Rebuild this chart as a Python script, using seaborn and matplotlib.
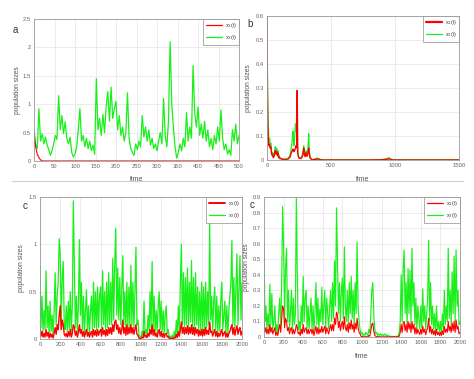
import numpy as np
import matplotlib
matplotlib.use('Agg')
import matplotlib.pyplot as plt
import seaborn as sns

# panel a: time 0..500, one value every 4 time units
x2_a = [0.55, 0.30, 0.22, 0.92, 0.35, 0.48, 0.30, 0.42, 0.28, 0.20,
        0.10, 0.18, 0.30, 0.45, 0.38, 1.15, 0.55, 0.80, 0.48, 0.69,
        0.40, 0.30, 0.42, 0.15, 0.07, 0.12, 0.25, 0.55, 0.92, 0.35,
        0.45, 0.25, 0.40, 0.22, 0.35, 0.18, 0.28, 0.12, 1.45, 0.55,
        0.75, 0.45, 0.82, 0.50, 0.95, 1.22, 0.70, 1.30, 0.75, 0.92,
        1.05, 0.55, 0.80, 0.45, 0.60, 0.35, 0.50, 1.20, 0.40, 0.22,
        0.15, 0.10, 0.30, 0.20, 0.35, 0.25, 0.80, 0.42, 0.60, 0.35,
        0.55, 0.28, 0.40, 0.22, 0.30, 0.18, 0.35, 0.50, 0.30, 1.10,
        0.45, 0.25, 0.70, 2.10, 1.00, 0.60, 0.25, 0.05, 0.15, 0.30,
        0.18, 0.40, 0.25, 0.85, 0.35, 0.60, 0.40, 1.68, 0.85, 0.60,
        0.95, 0.45, 0.65, 0.40, 0.70, 0.35, 0.55, 0.25, 0.40, 0.20,
        0.45, 0.30, 0.60, 0.35, 0.90, 0.40, 0.20, 0.30, 0.12, 0.20,
        0.10, 0.55, 0.35, 0.65, 0.30, 0.45]
x1_a = [0.50, 0.25, 0.12, 0.06, 0.02] + [0.0] * (len(x2_a) - 5)

# panel b: irregular time points 0..1500
t_b = [0, 3, 6, 10, 15, 20, 25, 30, 35, 40, 45, 50, 55, 60, 65, 70, 75, 80,
       85, 90, 95, 100, 110, 120, 135, 150, 165, 180, 190, 198, 204, 210,
       216, 222, 228, 232, 236, 240, 245, 250, 260, 270, 280, 287, 292, 298,
       305, 312, 320, 326, 330, 335, 340, 350, 360, 380, 400, 410, 420, 440,
       480, 600, 800, 900, 940, 950, 958, 965, 975, 990, 1100, 1300, 1500]
x2_b = [0.60, 0.40, 0.25, 0.14, 0.08, 0.09, 0.06, 0.07, 0.04, 0.02,
        0.03, 0.01, 0.02, 0.035, 0.055, 0.03, 0.05, 0.025, 0.04, 0.015,
        0.02, 0.01, 0.008, 0.005, 0.003, 0.004, 0.006, 0.02, 0.05, 0.09,
        0.12, 0.06, 0.09, 0.15, 0.12, 0.20, 0.08, 0.04, 0.02, 0.01,
        0.008, 0.012, 0.03, 0.06, 0.03, 0.02, 0.04, 0.02, 0.05, 0.11,
        0.04, 0.02, 0.01, 0.003, 0.002, 0.006, 0.008, 0.003, 0.002, 0.001,
        0.001, 0.001, 0.001, 0.002, 0.006, 0.01, 0.008, 0.004, 0.002, 0.001,
        0.001, 0.001, 0.001]
x1_b = [0.60, 0.30, 0.15, 0.09, 0.06, 0.065, 0.05, 0.055, 0.03, 0.02,
        0.02, 0.01, 0.015, 0.03, 0.04, 0.025, 0.035, 0.02, 0.03, 0.01,
        0.012, 0.006, 0.005, 0.003, 0.002, 0.003, 0.004, 0.012, 0.03, 0.04,
        0.045, 0.035, 0.04, 0.05, 0.06, 0.05, 0.29, 0.03, 0.015, 0.008,
        0.006, 0.008, 0.02, 0.05, 0.025, 0.015, 0.03, 0.015, 0.03, 0.05,
        0.03, 0.012, 0.006, 0.002, 0.001, 0.003, 0.004, 0.002, 0.001, 0.0,
        0.0, 0.0, 0.0, 0.001, 0.003, 0.005, 0.004, 0.002, 0.001, 0.0,
        0.0, 0.0, 0.0]

# panel c: time 0..2000, one value every 10 time units
x2_c = [0.77, 0.12, 0.45, 0.08, 0.30, 0.10, 0.72, 0.12, 0.35, 0.06,
        0.40, 0.08, 0.25, 0.05, 0.30, 0.70, 0.15, 0.45, 0.60, 1.06,
        0.90, 0.20, 0.65, 0.82, 0.15, 0.10, 0.35, 0.08, 0.40, 0.10,
        0.50, 0.08, 0.35, 1.46, 0.80, 0.12, 0.45, 0.08, 0.35, 1.05,
        0.25, 0.60, 0.10, 0.45, 0.06, 0.30, 0.52, 0.08, 0.35, 0.06,
        0.30, 0.45, 0.08, 0.60, 0.12, 0.50, 0.10, 0.55, 0.12, 0.45,
        0.55, 0.10, 0.72, 0.15, 0.50, 0.08, 0.60, 0.12, 0.70, 0.15,
        0.60, 0.15, 0.85, 0.20, 0.80, 1.17, 0.25, 0.75, 0.20, 0.65,
        0.15, 0.55, 0.88, 0.15, 0.50, 0.10, 0.60, 0.12, 0.55, 0.12,
        0.78, 0.15, 0.60, 0.12, 0.50, 0.97, 0.15, 0.20, 0.05, 0.02,
        0.01, 0.08, 0.03, 0.40, 0.06, 0.10, 0.04, 0.25, 0.08, 0.50,
        0.12, 0.82, 0.10, 0.45, 0.08, 0.30, 0.06, 0.35, 0.50, 0.10,
        0.40, 0.08, 0.30, 0.05, 0.25, 0.35, 0.06, 0.10, 0.02, 0.03,
        0.01, 0.04, 0.01, 0.08, 0.02, 0.20, 0.04, 0.35, 0.08, 0.60,
        1.00, 0.15, 0.70, 0.12, 0.65, 0.15, 0.75, 0.12, 0.60, 0.18,
        0.83, 0.12, 0.65, 0.10, 0.70, 0.15, 0.55, 0.08, 0.50, 0.10,
        0.60, 0.08, 0.55, 0.10, 0.60, 0.12, 0.50, 0.15, 1.22, 0.20,
        0.45, 0.08, 0.40, 0.55, 0.10, 0.45, 0.06, 0.35, 0.08, 0.40,
        0.60, 0.10, 0.25, 0.40, 0.06, 0.35, 0.05, 0.30, 0.45, 0.60,
        1.04, 0.15, 0.65, 0.12, 0.55, 0.90, 0.15, 0.50, 0.88, 0.20,
        0.60]
x1_c = [0.12, 0.03, 0.08, 0.02, 0.06, 0.02, 0.10, 0.03, 0.07, 0.01,
        0.06, 0.02, 0.05, 0.01, 0.06, 0.12, 0.05, 0.15, 0.10, 0.25,
        0.35, 0.10, 0.20, 0.15, 0.05, 0.03, 0.06, 0.02, 0.08, 0.03,
        0.10, 0.02, 0.06, 0.15, 0.12, 0.04, 0.08, 0.02, 0.07, 0.15,
        0.06, 0.10, 0.03, 0.08, 0.02, 0.06, 0.10, 0.03, 0.07, 0.02,
        0.06, 0.08, 0.02, 0.10, 0.04, 0.09, 0.03, 0.10, 0.04, 0.08,
        0.10, 0.03, 0.12, 0.05, 0.09, 0.03, 0.10, 0.04, 0.12, 0.06,
        0.12, 0.05, 0.15, 0.08, 0.18, 0.20, 0.10, 0.15, 0.06, 0.12,
        0.05, 0.10, 0.20, 0.06, 0.12, 0.04, 0.15, 0.05, 0.12, 0.06,
        0.15, 0.06, 0.12, 0.05, 0.10, 0.15, 0.05, 0.04, 0.01, 0.005,
        0.003, 0.02, 0.01, 0.08, 0.02, 0.04, 0.015, 0.06, 0.03, 0.10,
        0.05, 0.15, 0.04, 0.10, 0.03, 0.06, 0.02, 0.07, 0.10, 0.03,
        0.08, 0.02, 0.06, 0.015, 0.05, 0.06, 0.02, 0.03, 0.005, 0.01,
        0.003, 0.01, 0.003, 0.02, 0.01, 0.05, 0.015, 0.08, 0.03, 0.10,
        0.18, 0.06, 0.12, 0.05, 0.12, 0.06, 0.14, 0.05, 0.12, 0.06,
        0.15, 0.05, 0.12, 0.04, 0.12, 0.06, 0.10, 0.03, 0.09, 0.04,
        0.10, 0.03, 0.10, 0.04, 0.12, 0.05, 0.09, 0.05, 0.18, 0.07,
        0.08, 0.03, 0.07, 0.10, 0.03, 0.08, 0.02, 0.06, 0.03, 0.07,
        0.10, 0.03, 0.06, 0.08, 0.02, 0.06, 0.02, 0.06, 0.08, 0.12,
        0.15, 0.05, 0.12, 0.04, 0.10, 0.14, 0.05, 0.10, 0.12, 0.04,
        0.08]

# panel d: time 0..2000, one value every 10 time units
x2_d = [0.61, 0.10, 0.20, 0.05, 0.15, 0.04, 0.34, 0.08, 0.28, 0.05,
        0.10, 0.20, 0.03, 0.08, 0.02, 0.15, 0.25, 0.06, 0.33, 0.84,
        0.58, 0.12, 0.45, 0.57, 0.10, 0.30, 0.05, 0.15, 0.30, 0.05,
        0.25, 0.08, 0.15, 0.90, 0.40, 0.05, 0.10, 0.02, 0.20, 0.08,
        0.39, 0.10, 0.25, 0.30, 0.06, 0.20, 0.05, 0.15, 0.25, 0.05,
        0.20, 0.04, 0.15, 0.35, 0.08, 0.25, 0.05, 0.18, 0.10, 0.32,
        0.08, 0.20, 0.30, 0.06, 0.25, 0.15, 0.05, 0.20, 0.30, 0.10,
        0.35, 0.12, 0.49, 0.20, 0.83, 0.50, 0.15, 0.35, 0.10, 0.30,
        0.38, 0.12, 0.58, 0.20, 0.10, 0.30, 0.08, 0.35, 0.15, 0.39,
        0.12, 0.30, 0.08, 0.35, 0.15, 0.61, 0.20, 0.10, 0.05, 0.02,
        0.03, 0.01, 0.02, 0.01, 0.03, 0.02, 0.01, 0.05, 0.03, 0.15,
        0.30, 0.35, 0.15, 0.05, 0.02, 0.03, 0.01, 0.02, 0.01, 0.02,
        0.01, 0.015, 0.01, 0.02, 0.01, 0.015, 0.005, 0.01, 0.005, 0.003,
        0.005, 0.003, 0.005, 0.002, 0.004, 0.003, 0.005, 0.01, 0.03, 0.10,
        0.40, 0.10, 0.45, 0.56, 0.15, 0.35, 0.08, 0.44, 0.15, 0.43,
        0.10, 0.57, 0.20, 0.35, 0.08, 0.25, 0.05, 0.20, 0.12, 0.05,
        0.20, 0.06, 0.31, 0.10, 0.20, 0.05, 0.15, 0.25, 0.62, 0.10,
        0.35, 0.08, 0.20, 0.05, 0.15, 0.03, 0.20, 0.05, 0.10, 0.03,
        0.10, 0.03, 0.15, 0.05, 0.30, 0.08, 0.20, 0.10, 0.57, 0.12,
        0.30, 0.08, 0.42, 0.15, 0.52, 0.10, 0.56, 0.20, 0.30, 0.08,
        0.10]
x1_d = [0.10, 0.03, 0.06, 0.02, 0.05, 0.02, 0.08, 0.03, 0.06, 0.02,
        0.04, 0.06, 0.01, 0.03, 0.01, 0.05, 0.08, 0.03, 0.12, 0.20,
        0.18, 0.06, 0.12, 0.10, 0.04, 0.06, 0.02, 0.05, 0.06, 0.02,
        0.05, 0.02, 0.04, 0.08, 0.06, 0.02, 0.03, 0.01, 0.05, 0.02,
        0.08, 0.03, 0.05, 0.06, 0.02, 0.05, 0.02, 0.04, 0.05, 0.02,
        0.05, 0.01, 0.04, 0.07, 0.02, 0.06, 0.02, 0.05, 0.03, 0.07,
        0.03, 0.05, 0.07, 0.02, 0.06, 0.04, 0.02, 0.05, 0.08, 0.04,
        0.08, 0.04, 0.12, 0.08, 0.16, 0.14, 0.06, 0.10, 0.04, 0.08,
        0.10, 0.05, 0.13, 0.06, 0.04, 0.08, 0.03, 0.09, 0.05, 0.11,
        0.05, 0.08, 0.03, 0.09, 0.05, 0.12, 0.06, 0.03, 0.02, 0.005,
        0.003, 0.001, 0.002, 0.001, 0.002, 0.001, 0.001, 0.01, 0.005, 0.04,
        0.08, 0.09, 0.04, 0.01, 0.005, 0.003, 0.001, 0.002, 0.001, 0.001,
        0.001, 0.001, 0.001, 0.001, 0.001, 0.001, 0.001, 0.001, 0.001, 0.001,
        0.001, 0.001, 0.001, 0.001, 0.001, 0.001, 0.001, 0.002, 0.005, 0.03,
        0.08, 0.03, 0.09, 0.10, 0.04, 0.08, 0.03, 0.10, 0.05, 0.09,
        0.03, 0.10, 0.05, 0.08, 0.02, 0.06, 0.02, 0.05, 0.03, 0.015,
        0.05, 0.02, 0.07, 0.03, 0.05, 0.015, 0.04, 0.06, 0.12, 0.03,
        0.07, 0.02, 0.05, 0.015, 0.04, 0.01, 0.05, 0.015, 0.03, 0.01,
        0.03, 0.01, 0.04, 0.015, 0.07, 0.03, 0.05, 0.03, 0.10, 0.04,
        0.07, 0.03, 0.09, 0.04, 0.10, 0.03, 0.11, 0.05, 0.07, 0.02,
        0.03]

t_a = np.linspace(0, 500, len(x2_a))
t_c = np.linspace(0, 2000, len(x2_c))
t_d = np.linspace(0, 2000, len(x2_d))

RED = '#ff0000'
GREEN = '#19f019'

sns.set_theme(style='white')
plt.rcParams['font.family'] = ['Liberation Sans', 'DejaVu Sans']

fig = plt.figure(figsize=(4.74, 3.79), dpi=100)

W, H = 474, 379


def axes_px(l, t, r, b):
    return fig.add_axes([l / W, 1 - b / H, (r - l) / W, (b - t) / H])


panels = [
    # box, time, x1, x2, xlim, ylim, xticks, yticks, lw red, lw green, lw legend red, ylabel x, xlabel y
    (axes_px(34, 19, 239, 161), t_a, x1_a, x2_a, (0, 500), (0, 2.5),
     np.arange(0, 501, 50), np.arange(0, 2.51, 0.5), 0.8, 0.9, 0.9, -0.065, -0.105),
    (axes_px(267, 16, 459, 160), t_b, x1_b, x2_b, (0, 1500), (0, 0.6),
     [0, 500, 1000, 1500], np.arange(0, 0.61, 0.1), 1.0, 0.9, 1.6, -0.08, -0.11),
    (axes_px(40, 197, 242, 339), t_c, x1_c, x2_c, (0, 2000), (0, 1.5),
     np.arange(0, 2001, 200), np.arange(0, 1.51, 0.5), 1.0, 0.9, 1.4, -0.075, -0.12),
    (axes_px(264, 197, 460, 337), t_d, x1_d, x2_d, (0, 2000), (0, 0.9),
     np.arange(0, 2001, 200), np.arange(0, 0.91, 0.1), 0.8, 0.85, 0.9, -0.072, -0.115),
]

for ax, t, x1, x2, xlim, ylim, xt, yt, lwr, lwg, lwleg, ylx, xly in panels:
    sns.lineplot(x=t, y=x2, ax=ax, color=GREEN, linewidth=lwg,
                 estimator=None, sort=False, legend=False)
    sns.lineplot(x=t, y=x1, ax=ax, color=RED, linewidth=lwr,
                 estimator=None, sort=False, legend=False)
    ax.set_xlim(*xlim)
    ax.set_ylim(*ylim)
    ax.set_xticks(xt)
    ax.set_yticks(yt)
    ax.set_xticklabels([f'{v:g}' for v in xt])
    ax.set_yticklabels([f'{v:g}' for v in yt])
    ax.grid(True, color='#e4e4e4', linewidth=0.5)
    ax.tick_params(direction='in', length=1.5, width=0.5, labelsize=4.2,
                   colors='#666666', pad=2)
    for s in ax.spines.values():
        s.set_visible(True)
        s.set_color('#9a9a9a')
        s.set_linewidth(0.6)
    ax.set_xlabel('time', fontsize=5, color='#555555')
    ax.set_ylabel('population sizes', fontsize=4.8, color='#555555')
    ax.yaxis.set_label_coords(ylx, 0.5)
    ax.xaxis.set_label_coords(0.5, xly)
    h1 = plt.Line2D([], [], color=RED, linewidth=lwleg)
    h2 = plt.Line2D([], [], color=GREEN, linewidth=0.9)
    leg = ax.legend([h1, h2], ['x$_1$(t)', 'x$_2$(t)'], loc='upper right',
                    fontsize=4.0, frameon=True, fancybox=False,
                    handlelength=3.0, borderpad=0.4, labelspacing=0.55,
                    borderaxespad=0.0, handletextpad=0.4)
    leg.get_frame().set_edgecolor('#8a8a8a')
    leg.get_frame().set_linewidth(0.6)
    for txt in leg.get_texts():
        txt.set_color('#444444')

# panel letters
fig.text(15 / W, 1 - 30 / H, 'a', fontsize=7, color='#333333', ha='center', va='center')
fig.text(250 / W, 1 - 24 / H, 'b', fontsize=7, color='#333333', ha='center', va='center')
fig.text(25 / W, 1 - 206 / H, 'c', fontsize=7, color='#333333', ha='center', va='center')
fig.text(252 / W, 1 - 205 / H, 'c', fontsize=7, color='#333333', ha='center', va='center')

# thin separator between the rows
fig.add_artist(plt.Line2D([12 / W, 463 / W], [1 - 181 / H, 1 - 181 / H],
                          color='#cfcfcf', linewidth=0.8))

fig.savefig('out.png', dpi=100)
